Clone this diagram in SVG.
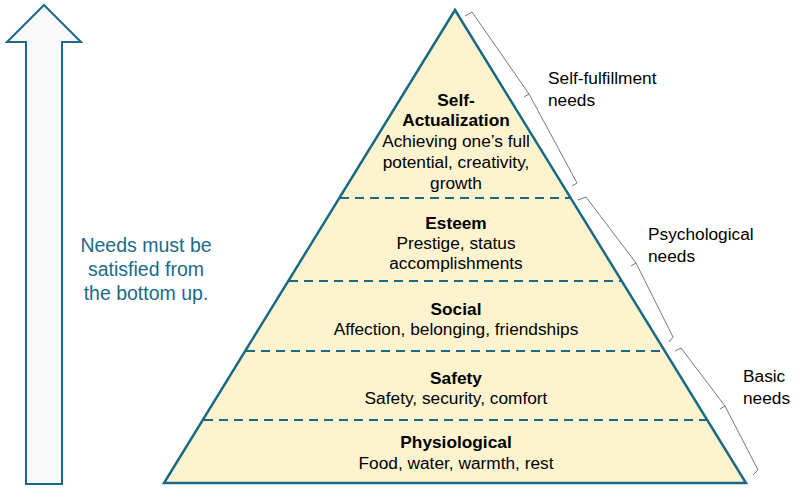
<svg xmlns="http://www.w3.org/2000/svg" width="806" height="500" viewBox="0 0 806 500">
<style>
text{font-family:"Liberation Sans",Arial,sans-serif;fill:#000}
.t{font-size:17.3px;text-anchor:middle}
.b{font-weight:bold}
.r{font-size:17.3px}
.d{stroke:#1a6a85;stroke-width:2;stroke-dasharray:9,6;fill:none}
.br{stroke:#777;stroke-width:1;fill:none}
.l{font-size:19.5px;fill:#1b6a8a;text-anchor:middle}
</style>
<rect width="806" height="500" fill="#fff"/>
<g id="arrow"><path d="M44,5 L81,42 L62,42 L62,484 L26,484 L26,42 L7,42 Z" fill="#f9f9f9" stroke="#1a6a85" stroke-width="2"/>
<text class="l" x="146" y="252">Needs must be</text>
<text class="l" x="146" y="276">satisfied from</text>
<text class="l" x="146" y="300">the bottom up.</text></g>
<g id="pyramid"><path d="M455,10 L746,483 L164,483 Z" fill="#fdf4cf" stroke="#1a6a85" stroke-width="2.5" stroke-linejoin="miter"/></g>
<g id="connectors">
<line class="d" x1="340" y1="198" x2="570" y2="198"/>
<line class="d" x1="289" y1="281" x2="621" y2="281"/>
<line class="d" x1="246" y1="351" x2="664" y2="351"/>
<line class="d" x1="204" y1="420" x2="706" y2="420"/>
<path class="br" d="M465,16 L472,12 L529,94 L524,97 M529,94 L577,183 L572,186"/>
<path class="br" d="M578,200 L586,197 L636,263 L631,266 M636,263 L673,337 L669,342"/>
<path class="br" d="M675,351 L681,348 L725,406 L720,409 M725,406 L758,470 L753,475"/>
</g>
<g id="self-actualization">
<text class="t b" x="456" y="106">Self-</text>
<text class="t b" x="456" y="126">Actualization</text>
<text class="t" x="456" y="147">Achieving one’s full</text>
<text class="t" x="456" y="168">potential, creativity,</text>
<text class="t" x="456" y="189">growth</text></g>
<g id="esteem">
<text class="t b" x="456" y="229">Esteem</text>
<text class="t" x="456" y="249">Prestige, status</text>
<text class="t" x="456" y="269">accomplishments</text></g>
<g id="social">
<text class="t b" x="456" y="315">Social</text>
<text class="t" x="456" y="335">Affection, belonging, friendships</text></g>
<g id="safety">
<text class="t b" x="456" y="384">Safety</text>
<text class="t" x="456" y="404">Safety, security, comfort</text></g>
<g id="physiological">
<text class="t b" x="456" y="448">Physiological</text>
<text class="t" x="456" y="469">Food, water, warmth, rest</text></g>
<g id="labels">
<text class="r" x="548" y="84">Self-fulfillment</text>
<text class="r" x="548" y="106">needs</text>
<text class="r" x="648" y="240">Psychological</text>
<text class="r" x="648" y="262">needs</text>
<text class="r" x="743" y="382">Basic</text>
<text class="r" x="743" y="404">needs</text></g>
</svg>
